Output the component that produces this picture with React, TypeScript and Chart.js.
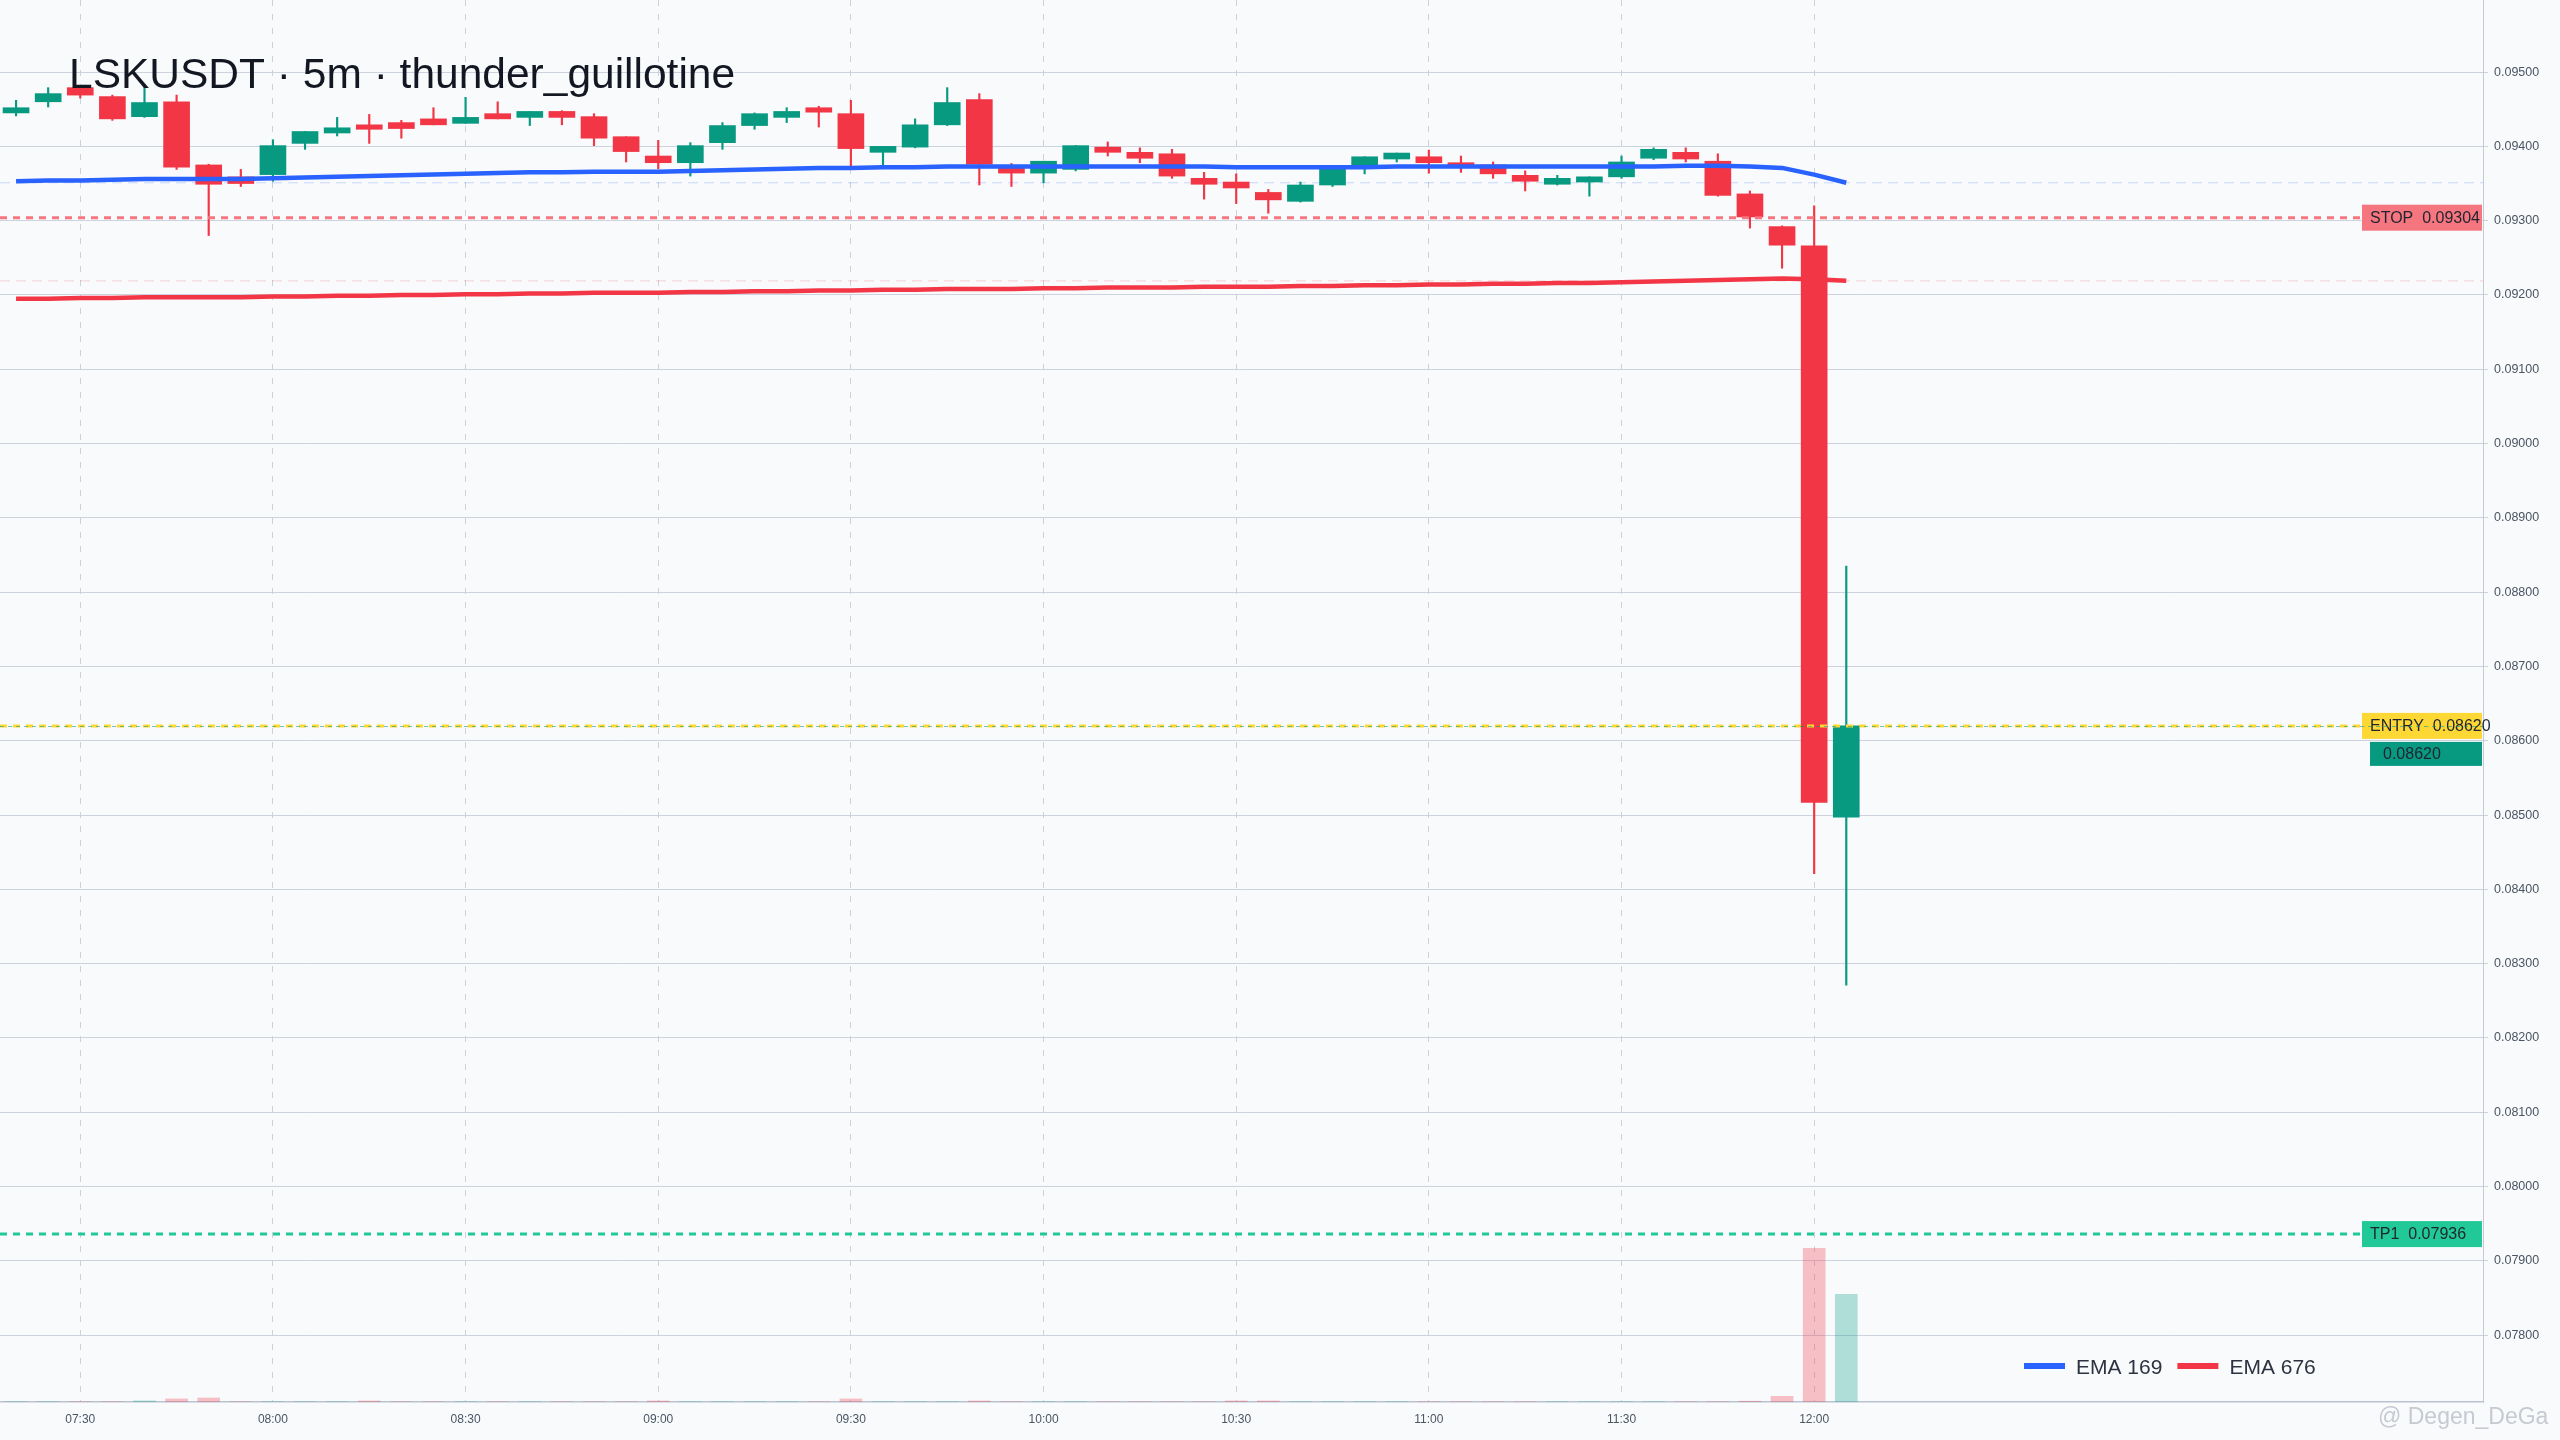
import React, { useEffect, useRef } from 'react';
import { Chart, registerables } from 'chart.js';

Chart.register(...registerables);

// ---------------- data ----------------
const TIMES = [
  '07:20', '07:25', '07:30', '07:35', '07:40', '07:45', '07:50', '07:55',
  '08:00', '08:05', '08:10', '08:15', '08:20', '08:25', '08:30', '08:35', '08:40', '08:45', '08:50', '08:55',
  '09:00', '09:05', '09:10', '09:15', '09:20', '09:25', '09:30', '09:35', '09:40', '09:45', '09:50', '09:55',
  '10:00', '10:05', '10:10', '10:15', '10:20', '10:25', '10:30', '10:35', '10:40', '10:45', '10:50', '10:55',
  '11:00', '11:05', '11:10', '11:15', '11:20', '11:25', '11:30', '11:35', '11:40', '11:45', '11:50', '11:55',
  '12:00', '12:05',
];

const OPEN = [
  0.09445, 0.09460, 0.09479, 0.09467, 0.09440, 0.09460, 0.09375, 0.09359,
  0.09362, 0.09404, 0.09418, 0.09429, 0.09432, 0.09437, 0.09431, 0.09444, 0.09439, 0.09447, 0.09440, 0.09413,
  0.09387, 0.09378, 0.09405, 0.09428, 0.09439, 0.09452, 0.09444, 0.09392, 0.09399, 0.09429, 0.09463, 0.09373,
  0.09364, 0.09369, 0.09399, 0.09392, 0.09390, 0.09357, 0.09352, 0.09338, 0.09326, 0.09348, 0.09372, 0.09383,
  0.09386, 0.09378, 0.09375, 0.09361, 0.09349, 0.09352, 0.09359, 0.09384, 0.09392, 0.09380, 0.09336, 0.09292,
  0.09266, 0.08497,
];
const HIGH = [
  0.09462, 0.09479, 0.09481, 0.09469, 0.09479, 0.09469, 0.09376, 0.09369,
  0.09409, 0.09420, 0.09439, 0.09443, 0.09435, 0.09452, 0.09466, 0.09460, 0.09447, 0.09448, 0.09444, 0.09413,
  0.09408, 0.09405, 0.09432, 0.09445, 0.09452, 0.09454, 0.09462, 0.09400, 0.09437, 0.09479, 0.09471, 0.09377,
  0.09380, 0.09401, 0.09406, 0.09398, 0.09396, 0.09365, 0.09363, 0.09342, 0.09352, 0.09371, 0.09386, 0.09391,
  0.09395, 0.09387, 0.09379, 0.09367, 0.09361, 0.09359, 0.09387, 0.09398, 0.09398, 0.09390, 0.09340, 0.09293,
  0.09320, 0.08835,
];
const LOW = [
  0.09441, 0.09453, 0.09465, 0.09435, 0.09439, 0.09369, 0.09280, 0.09346,
  0.09353, 0.09396, 0.09414, 0.09404, 0.09411, 0.09429, 0.09431, 0.09437, 0.09428, 0.09429, 0.09401, 0.09379,
  0.09370, 0.09360, 0.09396, 0.09423, 0.09432, 0.09426, 0.09374, 0.09374, 0.09398, 0.09428, 0.09348, 0.09346,
  0.09351, 0.09367, 0.09387, 0.09378, 0.09357, 0.09329, 0.09323, 0.09310, 0.09325, 0.09346, 0.09363, 0.09379,
  0.09364, 0.09365, 0.09357, 0.09340, 0.09348, 0.09333, 0.09357, 0.09382, 0.09379, 0.09333, 0.09290, 0.09236,
  0.08421, 0.08271,
];
const CLOSE = [
  0.09452, 0.09471, 0.09469, 0.09437, 0.09459, 0.09372, 0.09349, 0.09350,
  0.09401, 0.09420, 0.09425, 0.09423, 0.09424, 0.09429, 0.09439, 0.09437, 0.09447, 0.09439, 0.09411, 0.09393,
  0.09378, 0.09401, 0.09428, 0.09444, 0.09447, 0.09446, 0.09397, 0.09400, 0.09429, 0.09459, 0.09376, 0.09364,
  0.09380, 0.09401, 0.09392, 0.09384, 0.09360, 0.09349, 0.09344, 0.09328, 0.09348, 0.09371, 0.09386, 0.09391,
  0.09378, 0.09375, 0.09363, 0.09353, 0.09357, 0.09359, 0.09379, 0.09396, 0.09383, 0.09334, 0.09305, 0.09267,
  0.08517, 0.08620,
];
const VOLUME = [
  0.1, 0.1, 0.1, 0.1, 0.7, 2.0, 2.6, 0.1,
  0.1, 0.1, 0.1, 0.7, 0.1, 0.1, 0.1, 0.1, 0.1, 0.1, 0.1, 0.1,
  0.7, 0.1, 0.1, 0.1, 0.1, 0.1, 2.0, 0.1, 0.1, 0.1, 0.7, 0.1,
  0.1, 0.1, 0.1, 0.1, 0.1, 0.1, 0.7, 0.7, 0.1, 0.1, 0.1, 0.1,
  0.1, 0.1, 0.1, 0.1, 0.1, 0.1, 0.1, 0.1, 0.1, 0.1, 0.5, 3.7,
  100, 70,
];
const EMA169 = [
  0.09353, 0.09354, 0.09354, 0.09355, 0.09356, 0.09356, 0.09356, 0.09356,
  0.09357, 0.09358, 0.09359, 0.09360, 0.09361, 0.09362, 0.09363, 0.09364, 0.09365, 0.09365, 0.09366, 0.09366,
  0.09366, 0.09367, 0.09368, 0.09369, 0.09370, 0.09371, 0.09371, 0.09372, 0.09372, 0.09373, 0.09373, 0.09373,
  0.09373, 0.09373, 0.09373, 0.09373, 0.09373, 0.09373, 0.09372, 0.09372, 0.09372, 0.09372, 0.09372, 0.09373,
  0.09373, 0.09373, 0.09373, 0.09373, 0.09373, 0.09373, 0.09373, 0.09373, 0.09374, 0.09374, 0.09373, 0.09371,
  0.09362, 0.09351,
];
const EMA676 = [
  0.09195, 0.09195, 0.09196, 0.09196, 0.09197, 0.09197, 0.09197, 0.09197,
  0.09198, 0.09198, 0.09199, 0.09199, 0.09200, 0.09200, 0.09201, 0.09201, 0.09202, 0.09202, 0.09203, 0.09203,
  0.09203, 0.09204, 0.09204, 0.09205, 0.09205, 0.09206, 0.09206, 0.09207, 0.09207, 0.09208, 0.09208, 0.09208,
  0.09209, 0.09209, 0.09210, 0.09210, 0.09210, 0.09211, 0.09211, 0.09211, 0.09212, 0.09212, 0.09213, 0.09213,
  0.09214, 0.09214, 0.09215, 0.09215, 0.09216, 0.09216, 0.09217, 0.09218, 0.09219, 0.09220, 0.09221, 0.09222,
  0.09221, 0.09219,
];
const X_TICKS = [2, 8, 14, 20, 26, 32, 38, 44, 50, 56];
const Y_TICKS = [
  0.078, 0.079, 0.080, 0.081, 0.082, 0.083, 0.084, 0.085, 0.086,
  0.087, 0.088, 0.089, 0.090, 0.091, 0.092, 0.093, 0.094, 0.095,
];
const STOP = 0.09304;
const ENTRY = 0.0862;
const TP1 = 0.07936;
const TITLE = 'LSKUSDT · 5m · thunder_guillotine';
const WATERMARK = '@ Degen_DeGa';

// ---------------- style ----------------
const X_MIN = -0.5;
const X_MAX = 76.83;
const Y_MIN = 0.07710;
const Y_MAX = 0.09597;
const VOL_MAX = 912;
const BG = '#f8fafc';
const UP = '#089981';
const DOWN = '#f23645';
const UP_VOL = 'rgba(8,153,129,0.3)';
const DOWN_VOL = 'rgba(242,54,69,0.3)';
const BLUE = '#2962ff';
const STOP_COLOR = '#f6767f';
const ENTRY_COLOR = '#fdd835';
const TP_COLOR = '#20c997';
const TEXT = '#1f2430';
const AXIS_TEXT = '#4b5563';
const FONT = '"Liberation Sans", Arial, sans-serif';

const LAST = CLOSE[CLOSE.length - 1];
const isUp = (i: number) => CLOSE[i] >= OPEN[i];

const levelLine = (value: number, color: string, width: number) => ({
  type: 'line' as const,
  label: '',
  data: [{ x: X_MIN, y: value }, { x: X_MAX, y: value }],
  borderColor: color,
  borderWidth: width,
  borderDash: [7, 6],
  pointRadius: 0,
  order: 0,
});

const faintLine = (value: number, color: string) => ({
  type: 'line' as const,
  label: '',
  data: [{ x: X_MIN, y: value }, { x: X_MAX, y: value }],
  borderColor: color,
  borderWidth: 1,
  borderDash: [10, 6],
  pointRadius: 0,
  order: 4,
});

const overlayPlugin = {
  id: 'overlay',
  afterDatasetsDraw(chart: any) {
    const { ctx, chartArea, scales } = chart;
    const ys = scales.y;
    const right = chartArea.right;
    ctx.save();

    // level labels
    ctx.font = `16px ${FONT}`;
    ctx.textAlign = 'left';
    ctx.textBaseline = 'middle';
    const levels = [
      { name: 'STOP', value: STOP, color: STOP_COLOR },
      { name: 'ENTRY', value: ENTRY, color: ENTRY_COLOR },
      { name: 'TP1', value: TP1, color: TP_COLOR },
    ];
    for (const lv of levels) {
      const py = ys.getPixelForValue(lv.value);
      ctx.fillStyle = lv.color;
      ctx.fillRect(right - 121, py - 13, 120, 26);
      ctx.fillStyle = TEXT;
      ctx.fillText(`${lv.name}  ${lv.value.toFixed(5)}`, right - 113, py + 1);
    }

    // last price line (thin dashed, over the entry level)
    const lp = ys.getPixelForValue(LAST);
    ctx.strokeStyle = 'rgba(8,153,129,0.55)';
    ctx.lineWidth = 1;
    ctx.setLineDash([4, 4]);
    ctx.beginPath();
    ctx.moveTo(chartArea.left, Math.round(lp) + 0.5);
    ctx.lineTo(right, Math.round(lp) + 0.5);
    ctx.stroke();
    ctx.setLineDash([]);

    // last price box
    ctx.fillStyle = UP;
    ctx.fillRect(right - 113, lp + 16, 112, 24);
    ctx.fillStyle = TEXT;
    ctx.fillText(LAST.toFixed(5), right - 100, lp + 28.5);

    // title
    ctx.font = `42.5px ${FONT}`;
    ctx.textBaseline = 'alphabetic';
    ctx.fillStyle = '#131722';
    ctx.fillText(TITLE, chartArea.left + 69, chartArea.top + 88);

    // legend
    const items = chart.data.datasets.filter((d: any) => d.label && d.label.startsWith('EMA'));
    ctx.font = `21px ${FONT}`;
    let lx = right - 459;
    const ly = chartArea.bottom - 36;
    for (const it of items) {
      ctx.fillStyle = it.borderColor;
      ctx.fillRect(lx, ly - 3, 41, 6);
      ctx.fillStyle = '#2d3340';
      ctx.fillText(it.label, lx + 52, ly + 7.5);
      lx += 52 + ctx.measureText(it.label).width + 15;
    }

    // watermark
    ctx.font = `23px ${FONT}`;
    ctx.fillStyle = '#c6cad1';
    ctx.fillText(WATERMARK, 2378, 1424);

    ctx.restore();
  },
};

export default function App() {
  const ref = useRef<HTMLCanvasElement>(null);

  useEffect(() => {
    document.body.style.margin = '0';
    document.body.style.background = BG;
    document.body.style.overflow = 'hidden';
    Chart.defaults.font.family = FONT;

    const bodyColors = OPEN.map((_, i) => (isUp(i) ? UP : DOWN));
    const volColors = OPEN.map((_, i) => (isUp(i) ? UP_VOL : DOWN_VOL));

    const datasets: any[] = [
      levelLine(STOP, STOP_COLOR, 3),
      levelLine(ENTRY, ENTRY_COLOR, 3),
      levelLine(TP1, TP_COLOR, 3),
      {
        type: 'line',
        label: 'EMA 169',
        data: EMA169.map((v, i) => ({ x: i, y: v })),
        borderColor: BLUE,
        borderWidth: 4.5,
        pointRadius: 0,
        borderJoinStyle: 'round',
        order: 1,
      },
      {
        type: 'line',
        label: 'EMA 676',
        data: EMA676.map((v, i) => ({ x: i, y: v })),
        borderColor: DOWN,
        borderWidth: 4.5,
        pointRadius: 0,
        borderJoinStyle: 'round',
        order: 1,
      },
      {
        type: 'bar',
        label: '',
        data: OPEN.map((o, i) => ({ x: i, y: [o, CLOSE[i]] })),
        backgroundColor: bodyColors,
        borderWidth: 0,
        borderSkipped: false,
        grouped: false,
        barThickness: 26,
        maxBarThickness: 26,
        order: 2,
      },
      {
        type: 'bar',
        label: '',
        data: LOW.map((l, i) => ({ x: i, y: [l, HIGH[i]] })),
        backgroundColor: bodyColors,
        borderWidth: 0,
        borderSkipped: false,
        grouped: false,
        barThickness: 1.5,
        maxBarThickness: 1.5,
        order: 3,
      },
      faintLine(EMA169[EMA169.length - 1], 'rgba(41,98,255,0.22)'),
      faintLine(EMA676[EMA676.length - 1], 'rgba(242,54,69,0.22)'),
      {
        type: 'bar',
        label: '',
        yAxisID: 'yVol',
        data: VOLUME.map((v, i) => ({ x: i, y: v })),
        backgroundColor: volColors,
        borderWidth: 0,
        grouped: false,
        barThickness: 22,
        maxBarThickness: 22,
        order: 5,
      },
    ];

    const chart = new Chart(ref.current as HTMLCanvasElement, {
      type: 'line',
      data: { datasets },
      options: {
        responsive: false,
        devicePixelRatio: 1,
        animation: false,
        events: [],
        layout: { padding: 0 },
        plugins: {
          legend: { display: false },
          tooltip: { enabled: false },
          title: { display: false },
        },
        scales: {
          x: {
            type: 'linear',
            position: 'bottom',
            min: X_MIN,
            max: X_MAX,
            offset: false,
            bounds: 'data',
            afterBuildTicks: (scale: any) => {
              scale.ticks = X_TICKS.map((v) => ({ value: v }));
            },
            afterFit: (scale: any) => {
              scale.height = 38;
              scale.paddingLeft = 0;
              scale.paddingRight = 0;
            },
            ticks: {
              autoSkip: false,
              maxRotation: 0,
              padding: 10,
              color: AXIS_TEXT,
              font: { size: 12, family: FONT },
              callback: (v: any) => TIMES[Math.round(Number(v))] ?? '',
            },
            grid: {
              color: '#cbd2dd',
              lineWidth: 1,
              drawTicks: false,
              offset: false,
            },
            border: { display: true, color: '#b9c3d1', width: 1.5, dash: [6, 8] },
          },
          y: {
            type: 'linear',
            position: 'right',
            min: Y_MIN,
            max: Y_MAX,
            bounds: 'data',
            afterBuildTicks: (scale: any) => {
              scale.ticks = Y_TICKS.map((v) => ({ value: v }));
            },
            afterFit: (scale: any) => {
              scale.width = 77;
              scale.paddingTop = 0;
              scale.paddingBottom = 0;
            },
            ticks: {
              autoSkip: false,
              padding: 6,
              color: AXIS_TEXT,
              font: { size: 12.5, family: FONT },
              callback: (v: any) => Number(v).toFixed(5),
            },
            grid: {
              color: '#ccd3de',
              lineWidth: 1,
              tickLength: 5,
            },
            border: { display: true, color: '#c3cad6', width: 1 },
          },
          yVol: {
            type: 'linear',
            display: false,
            min: 0,
            max: VOL_MAX,
            grid: { display: false },
          },
        },
      } as any,
      plugins: [overlayPlugin],
    });

    return () => chart.destroy();
  }, []);

  return (
    <div style={{ width: 2560, height: 1440, background: BG }}>
      <canvas
        ref={ref}
        width={2560}
        height={1440}
        style={{ display: 'block', width: 2560, height: 1440, background: BG }}
      />
    </div>
  );
}
